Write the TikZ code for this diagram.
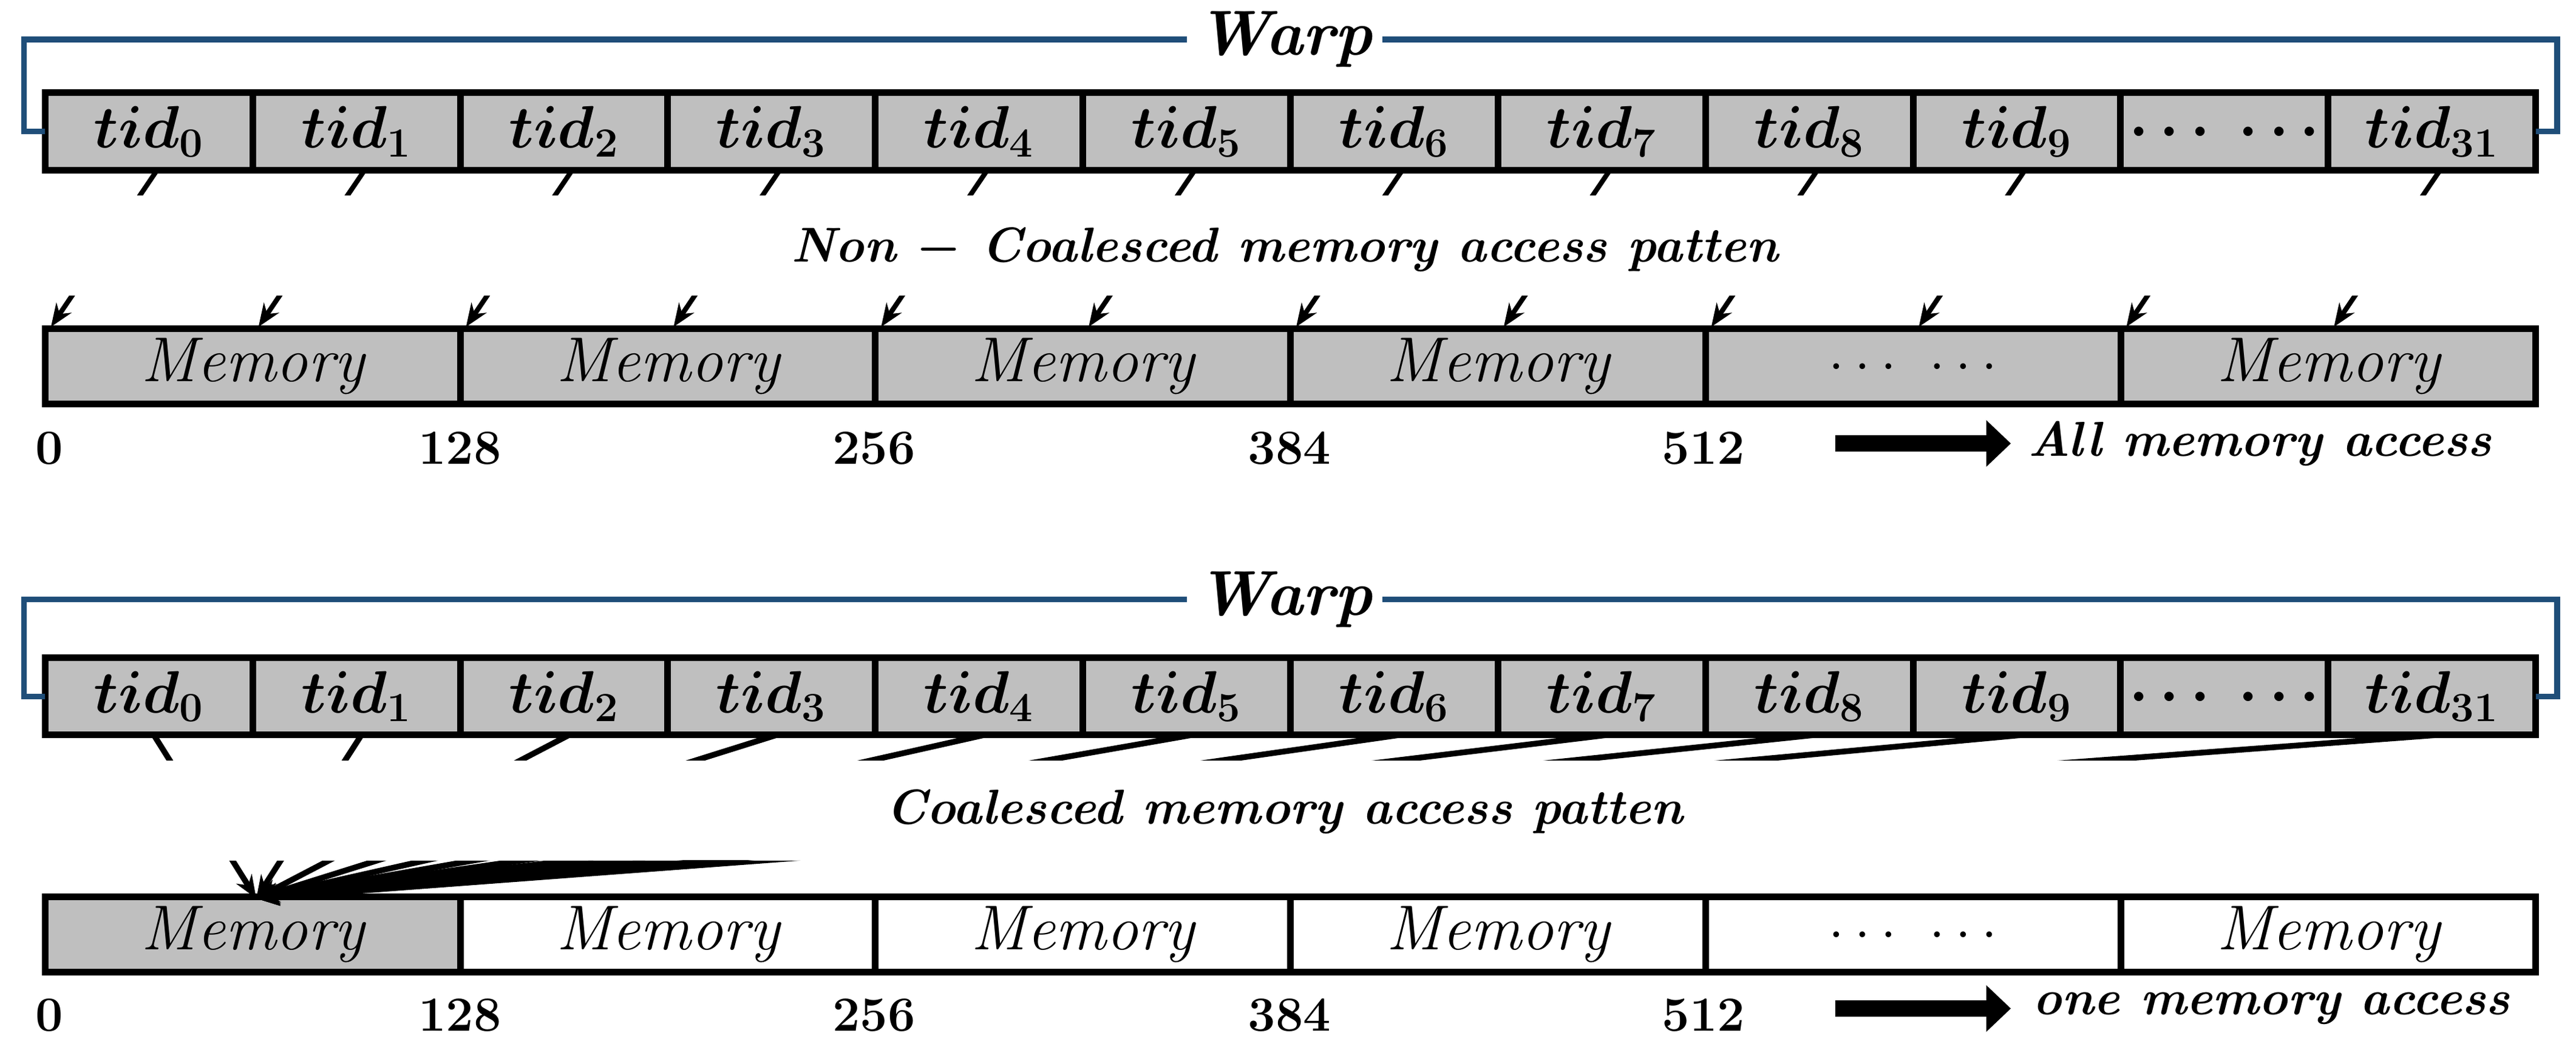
\documentclass[tikz,border=0pt]{standalone}
\usepackage{bm}
\usetikzlibrary{arrows.meta}
\definecolor{cellgray}{HTML}{BFBFBF}
\definecolor{warpblue}{HTML}{1F4E79}
\newcommand\tidl[1]{$\bm{tid_{#1}}$}
\begin{document}
\begin{tikzpicture}[x=0.02cm,y=-0.02cm,
  tid/.style={draw,fill=cellgray,line width=2.3pt,minimum width=2.5267cm,minimum height=0.94cm,inner sep=0,outer sep=0,font=\fontsize{22}{26}\selectfont},
  mem/.style={draw,line width=2.3pt,minimum width=5.0533cm,minimum height=0.92cm,inner sep=0,outer sep=0,font=\fontsize{22}{26}\selectfont\itshape},
  num/.style={font=\fontsize{17}{20}\selectfont\bfseries,inner sep=0},
  lbl/.style={font=\fontsize{17}{20}\selectfont\bfseries\itshape,inner sep=0},
  bracket/.style={draw=warpblue,line width=2pt},
  conn/.style={line width=1.7pt,-{Stealth[length=0.28cm,width=0.22cm]}},
  fat/.style={line width=0.2cm,-{Triangle[length=0.3cm,width=0.55cm]}}]
\useasboundingbox (0,0) rectangle (1568,644);
\foreach \yy/\pre in {80/a,424/b}{
  \foreach \i in {0,...,11}{
    \pgfmathsetmacro\xx{90.67+126.33*\i}
    \ifnum\i=10
      \node[tid] (\pre t\i) at (\xx,\yy) {$\bm{\ldots\ \ldots}$};
    \else\ifnum\i=11
      \node[tid] (\pre t\i) at (\xx,\yy) {\tidl{31}};
    \else
      \node[tid] (\pre t\i) at (\xx,\yy) {\tidl{\i}};
    \fi\fi
  }
}
% Warp labels and brackets
\node[font=\fontsize{22}{26}\selectfont\bfseries\itshape] (w1) at (782,24) {Warp};
\node[font=\fontsize{22}{26}\selectfont\bfseries\itshape] (w2) at (782,365) {Warp};
\draw[bracket] (at0.west) -- ++(-13,0) |- (w1.west);
\draw[bracket] (at11.east) -- ++(13,0) |- (w1.east);
\draw[bracket] (bt0.west) -- ++(-13,0) |- (w2.west);
\draw[bracket] (bt11.east) -- ++(13,0) |- (w2.east);
% memory rows
\foreach \i in {0,...,5}{
  \pgfmathsetmacro\xx{27.5+126.33+252.67*\i}
  \ifnum\i=4
    \node[mem,fill=cellgray] (am\i) at (\xx,223) {$\ldots\ \ldots$};
    \node[mem,fill=white] (bm\i) at (\xx,569) {$\ldots\ \ldots$};
  \else
    \node[mem,fill=cellgray] (am\i) at (\xx,223) {Memory};
    \ifnum\i=0
      \node[mem,fill=cellgray] (bm\i) at (\xx,569) {Memory};
    \else
      \node[mem,fill=white] (bm\i) at (\xx,569) {Memory};
    \fi
  \fi
}
% titles
\node[lbl] (t1) at (782,152) {Non $\bm{-}$ Coalesced memory access patten};
\node[lbl] (t2) at (782,494) {Coalesced memory access patten};
% numbers
\foreach \n/\xx/\r in {0/30/0,128/280/1,256/532/2,384/785/3,512/1037/4}{
  \node[num] (an\r) at (\xx,273) {\n};
  \node[num] (bn\r) at (\xx,618) {\n};
}
\coordinate (aa0) at (1117,270); \coordinate (aa1) at (1224,270);
\coordinate (ba0) at (1117,614); \coordinate (ba1) at (1224,614);
\draw[fat] (aa0) -- (aa1);
\draw[fat] (ba0) -- (ba1);
\node[lbl,anchor=west] (al) at (1234,270) {All memory access};
\node[lbl,anchor=west] (bl) at (1237,614) {one memory access};
% non-coalesced connectors
\foreach \i in {0,...,11}{
  \coordinate (ma\i) at ({31+126.33*\i},199);
}
\coordinate (mb) at (156,547);
\begin{scope}
  \clip (0,105) rectangle (1568,119) (0,180) rectangle (1568,210);
  \foreach \i in {0,...,9,11}{
    \draw[conn] ([xshift=0.1cm]at\i.south) -- (ma\i);
  }
\end{scope}
\begin{scope}
  \clip (0,180) rectangle (1568,210);
  \draw[conn] ([xshift=0.1cm]at10.south) -- (ma10);
\end{scope}
% coalesced connectors
\begin{scope}
  \clip (0,449) rectangle (1568,463) (0,524) rectangle (1568,560);
  \foreach \i in {0,...,9,11}{
    \draw[conn,line width=2pt] ([xshift=0.06cm]bt\i.south) -- (mb);
  }
\end{scope}
\begin{scope}
  \clip (0,524) rectangle (1568,560);
  \draw[conn,line width=2pt] ([xshift=0.06cm]bt10.south) -- (mb);
\end{scope}
\end{tikzpicture}
\end{document}
